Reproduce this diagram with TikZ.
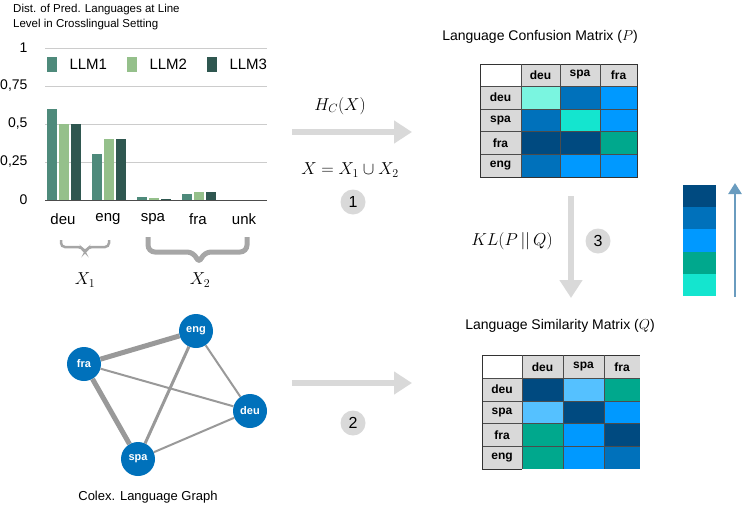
\documentclass[tikz,border=0pt]{standalone}
\usepackage{fontspec}
\setmainfont{Liberation Sans}
\usetikzlibrary{arrows.meta}
\definecolor{ca}{HTML}{4E8A7B}\definecolor{cb}{HTML}{95C08B}\definecolor{cc}{HTML}{2F5750}
\definecolor{m1}{HTML}{004A80}\definecolor{m2}{HTML}{0071BB}\definecolor{m3}{HTML}{0099FF}
\definecolor{m4}{HTML}{00A88D}\definecolor{m5}{HTML}{14E5CF}\definecolor{m6}{HTML}{7AF5E0}\definecolor{m7}{HTML}{55C1FF}
\definecolor{hd}{HTML}{D9D9D9}
\newcommand{\fs}[1]{\fontsize{#1}{#1}\selectfont}
\tikzset{
 garrow/.style={line width=6pt,draw=hd,-{Triangle[length=18pt,width=22pt]}},
 stepnum/.style={circle,fill=hd,minimum size=25pt,inner sep=0pt,font=\fs{16}},
 lang/.style={circle,fill=m2,text=white,font=\bfseries\fs{11},minimum size=34pt,inner sep=0pt},
 gedge/.style={draw=gray!80},
 mlab/.style={font=\bfseries\fs{12}},
 txt/.style={font=\fs{14}},
 mth/.style={font=\fs{18}},
}
\begin{document}
\begin{tikzpicture}[x=1pt,y=-1pt]
\useasboundingbox (0,0) rectangle (747,512);
\node[anchor=north west,align=left,font=\fs{11.5},inner sep=0pt] (ttl) at (13,4) {Dist. of Pred. Languages at Line\\[3pt]Level in Crosslingual Setting};
\foreach \v/\l in {0/0,0.25/{0,25},0.5/{0,5},0.75/{0,75},1/1}{
 \draw[gray!40] (45,{200-152*\v}) -- (267,{200-152*\v});
 \node[anchor=east,txt] at (31,{200-152*\v}) {\l};}
\draw[black!70] (45,200) -- (267,200);
\foreach \x/\a/\b/\c in {47/0.6/0.5/0.5, 92/0.3/0.4/0.4, 137/0.02/0.015/0.006, 182/0.04/0.05/0.05}{
 \fill[ca] (\x,200) rectangle ++(10,{-152*\a});
 \fill[cb] (\x+12,200) rectangle ++(10,{-152*\b});
 \fill[cc] (\x+24,200) rectangle ++(10,{-152*\c});}
\fill[ca] (47,57) rectangle (57,72); \node[anchor=west,font=\fs{15}] (l1) at (66,64) {LLM1};
\fill[cb] (127,57) rectangle (137,72); \node[anchor=west,font=\fs{15}] (l2) at (146,64) {LLM2};
\fill[cc] (207,57) rectangle (217,72); \node[anchor=west,font=\fs{15}] (l3) at (226,64) {LLM3};
\foreach \x/\t in {63/deu,108/eng,153/spa,198/fra,244/unk}\node[font=\fs{15}] at (\x,219) {\t};
\draw[gray!70,line width=2.5pt,rounded corners=4pt] (61,240) -- (61,247) -- (82,247) -- (85,253) -- (88,247) -- (109,247) -- (109,240);
\draw[gray!70,line width=5pt,rounded corners=7pt] (148,237) -- (148,252) -- (194,252) -- (199,264) -- (204,252) -- (247,252) -- (247,237);
\node[mth] (x1) at (85,280) {$X_1$};
\node[mth] (x2) at (200,280) {$X_2$};
\coordinate (a1s) at (292,132); \coordinate (a1e) at (412,132);
\draw[garrow] (a1s) -- (a1e);
\node[mth] (hc) at (340,106) {$H_C(X)$};
\node[mth] (xu) at (350,170) {$X = X_1 \cup X_2$};
\node[stepnum] (s1) at (353,202) {1};
\coordinate (a2s) at (292,383); \coordinate (a2e) at (412,383);
\draw[garrow] (a2s) -- (a2e);
\node[stepnum] (s2) at (353,423) {2};
\coordinate (a3s) at (571,196); \coordinate (a3e) at (571,298);
\draw[garrow] (a3s) -- (a3e);
\node[font=\fs{16}] (kl) at (512,241) {$KL(P\,||\,Q)$};
\node[stepnum] (s3) at (598,241) {3};
\node[txt] (tp) at (540,37) {Language Confusion Matrix ($P$)};
\node[txt] (tq) at (560,326) {Language Similarity Matrix ($Q$)};
\begin{scope}[shift={(480,64)}]
\fill[hd] (41,0) rectangle (157,22); \fill[hd] (0,22) rectangle (41,113);
\foreach \r/\cA/\cB/\cC [count=\i from 0] in {deu/m6/m2/m3, spa/m2/m5/m3, fra/m1/m1/m4, eng/m2/m3/m3}{
 \fill[\cA] (41,{22+\i*22.75}) rectangle ++(39,22.75);
 \fill[\cB] (80,{22+\i*22.75}) rectangle ++(40,22.75);
 \fill[\cC] (120,{22+\i*22.75}) rectangle ++(37,22.75);
 \node[mlab] at (20.5,{33.4+\i*22.75}) {\r};
 \draw[black!70] (0,{22+\i*22.75}) -- (157,{22+\i*22.75});}
\foreach \x/\t in {60.5/deu,100/spa,138.5/fra}\node[mlab] at (\x,11) {\t};
\draw[black!80] (0,0) rectangle (157,113);
\foreach \x in {41,80,120}\draw[black!70] (\x,0) -- (\x,113);
\end{scope}
\begin{scope}[shift={(482,355)}]
\fill[hd] (40,0) rectangle (158,23); \fill[hd] (0,23) rectangle (40,114);
\foreach \r/\cA/\cB/\cC [count=\i from 0] in {deu/m1/m7/m4, spa/m7/m1/m3, fra/m4/m3/m1, eng/m4/m3/m2}{
 \fill[\cA] (40,{23+\i*22.75}) rectangle ++(41,22.75);
 \fill[\cB] (81,{23+\i*22.75}) rectangle ++(41,22.75);
 \fill[\cC] (122,{23+\i*22.75}) rectangle ++(36,22.75);
 \node[mlab] at (20,{34.4+\i*22.75}) {\r};
 \draw[black!70] (0,{23+\i*22.75}) -- (158,{23+\i*22.75});}
\foreach \x/\t in {60.5/deu,101.5/spa,140/fra}\node[mlab] at (\x,12) {\t};
\draw[black!80] (0,0) -- (158,0) (0,0) -- (0,114) -- (40,114);
\foreach \x in {40,81,122}\draw[black!70] (\x,0) -- (\x,114);
\end{scope}
\foreach \c [count=\i from 0] in {m1,m2,m3,m4,m5}\fill[\c] (683,{185+\i*22.2}) rectangle ++(33,22.2);
\coordinate (sb) at (735,297); \coordinate (st) at (735,183);
\draw[line width=2.5pt,draw={rgb,255:red,106;green,156;blue,191},-{Triangle[length=11pt,width=13pt]}] (sb) -- (st);
\node[lang] (eng) at (196,331) {eng};
\node[lang] (fra) at (84,364) {fra};
\node[lang] (deu) at (250,411) {deu};
\node[lang] (spa) at (138,459) {spa};
\draw[gedge,line width=5pt] (fra) -- (eng);
\draw[gedge,line width=5pt] (fra) -- (spa);
\draw[gedge,line width=3pt] (eng) -- (spa);
\draw[gedge,line width=2pt] (eng) -- (deu);
\draw[gedge,line width=2pt] (fra) -- (deu);
\draw[gedge,line width=2pt] (spa) -- (deu);
\node[font=\fs{13}] (cap) at (148,497) {Colex. Language Graph};
\end{tikzpicture}
\end{document}
